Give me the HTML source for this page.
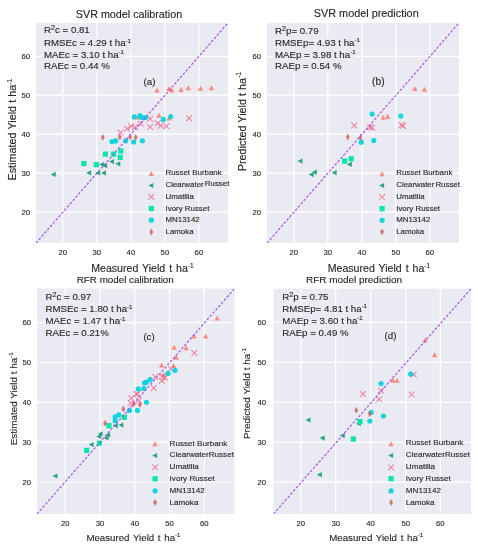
<!DOCTYPE html>
<html><head><meta charset="utf-8"><style>
html,body{margin:0;padding:0;background:#fff;}
svg{display:block;font-family:"Liberation Sans", sans-serif;will-change:transform;}
text{stroke:#262626;stroke-width:0.12px;}
</style></head><body>
<svg width="478" height="550" viewBox="0 0 478 550">
<rect width="478" height="550" fill="#fff"/>
<rect x="36" y="23" width="192.0" height="220.0" fill="#EAEAF2"/>
<line x1="62.7" y1="23" x2="62.7" y2="243" stroke="#fff" stroke-width="1.2"/>
<line x1="96.8" y1="23" x2="96.8" y2="243" stroke="#fff" stroke-width="1.2"/>
<line x1="130.9" y1="23" x2="130.9" y2="243" stroke="#fff" stroke-width="1.2"/>
<line x1="164.9" y1="23" x2="164.9" y2="243" stroke="#fff" stroke-width="1.2"/>
<line x1="198.9" y1="23" x2="198.9" y2="243" stroke="#fff" stroke-width="1.2"/>
<line x1="36" y1="212.1" x2="228" y2="212.1" stroke="#fff" stroke-width="1.2"/>
<line x1="36" y1="173.1" x2="228" y2="173.1" stroke="#fff" stroke-width="1.2"/>
<line x1="36" y1="134.1" x2="228" y2="134.1" stroke="#fff" stroke-width="1.2"/>
<line x1="36" y1="95.2" x2="228" y2="95.2" stroke="#fff" stroke-width="1.2"/>
<line x1="36" y1="56.3" x2="228" y2="56.3" stroke="#fff" stroke-width="1.2"/>
<text x="62.7" y="255.1" font-size="7.7" text-anchor="middle" fill="#262626">20</text>
<text x="96.8" y="255.1" font-size="7.7" text-anchor="middle" fill="#262626">30</text>
<text x="130.9" y="255.1" font-size="7.7" text-anchor="middle" fill="#262626">40</text>
<text x="164.9" y="255.1" font-size="7.7" text-anchor="middle" fill="#262626">50</text>
<text x="198.9" y="255.1" font-size="7.7" text-anchor="middle" fill="#262626">60</text>
<text x="30" y="214.9" font-size="7.7" text-anchor="end" fill="#262626">20</text>
<text x="30" y="175.9" font-size="7.7" text-anchor="end" fill="#262626">30</text>
<text x="30" y="136.9" font-size="7.7" text-anchor="end" fill="#262626">40</text>
<text x="30" y="98.0" font-size="7.7" text-anchor="end" fill="#262626">50</text>
<text x="30" y="59.099999999999994" font-size="7.7" text-anchor="end" fill="#262626">60</text>
<text x="75.8" y="17.5" font-size="10.75" fill="#262626">SVR model calibration</text>
<text x="91.2" y="272.3" font-size="10.6" fill="#262626" word-spacing="1">Measured Yield t ha<tspan font-size="6.6" dy="-4.0">-1</tspan></text>
<text transform="translate(16,180.6) rotate(-90)" x="0" y="0" font-size="10.85" fill="#262626">Estimated Yield t ha<tspan font-size="6.7" dy="-4.1">-1</tspan></text>
<rect x="42.5" y="24.2" width="48.0" height="13.8" fill="#EAEAF2"/>
<rect x="42.5" y="37.6" width="89.2" height="11.8" fill="#EAEAF2"/>
<rect x="42.5" y="49.0" width="82.2" height="11.8" fill="#EAEAF2"/>
<rect x="42.5" y="60.4" width="68.2" height="11.6" fill="#EAEAF2"/>
<text x="44" y="32.8" font-size="9.7" fill="#262626">R<tspan font-size="7.2" dy="-2.6">2</tspan><tspan dy="2.6">c = 0.81</tspan></text>
<text x="44" y="46.2" font-size="9.7" fill="#262626">RMSEc = 4.29 t ha<tspan font-size="6.0" dy="-3.7">-1</tspan></text>
<text x="44" y="57.6" font-size="9.7" fill="#262626">MAEc = 3.10 t ha<tspan font-size="6.0" dy="-3.7">-1</tspan></text>
<text x="44" y="69" font-size="9.7" fill="#262626">RAEc = 0.44 %</text>
<text x="143.5" y="84.6" font-size="9.9" fill="#262626">(a)</text>
<path d="M151.30 171.10L154.00 176.10L148.60 176.10Z" fill="#FA8072" fill-opacity="0.88"/>
<text x="165.5" y="175.3" font-size="7.9" fill="#262626">Russet Burbank</text>
<path d="M148.30 185.50L153.30 182.90L153.30 188.10Z" fill="#2AA683"/>
<text x="165.5" y="186.9" font-size="7.9" fill="#262626">Clearwater</text>
<text x="204.8" y="185.9" font-size="7.9" fill="#262626">Russet</text>
<path d="M148.40 193.90L154.20 199.70M148.40 199.70L154.20 193.90" stroke="#F25C80" stroke-width="1.05" stroke-opacity="0.75" fill="none"/>
<text x="165.5" y="198.6" font-size="7.9" fill="#262626">Umatilla</text>
<rect x="148.70" y="205.90" width="5.20" height="5.20" fill="#05E8A8"/>
<text x="165.5" y="210.5" font-size="7.9" fill="#262626">Ivory Russet</text>
<circle cx="151.30" cy="220.20" r="2.60" fill="#00D2DC" fill-opacity="0.92"/>
<text x="165.5" y="222.1" font-size="7.9" fill="#262626">MN13142</text>
<path d="M151.30 228.60L153.20 232.00L151.30 235.40L149.40 232.00Z" fill="#CD5C5C" fill-opacity="0.82"/>
<text x="165.5" y="233.6" font-size="7.9" fill="#262626">Lamoka</text>
<clipPath id="cA"><rect x="36" y="23" width="192.0" height="220.0"/></clipPath>
<g clip-path="url(#cA)">
<path d="M157.00 87.50L159.70 92.50L154.30 92.50Z" fill="#FA8072" fill-opacity="0.88"/>
<path d="M169.00 86.10L171.70 91.10L166.30 91.10Z" fill="#FA8072" fill-opacity="0.88"/>
<path d="M171.70 87.50L174.40 92.50L169.00 92.50Z" fill="#FA8072" fill-opacity="0.88"/>
<path d="M181.00 87.00L183.70 92.00L178.30 92.00Z" fill="#FA8072" fill-opacity="0.88"/>
<path d="M188.40 85.30L191.10 90.30L185.70 90.30Z" fill="#FA8072" fill-opacity="0.88"/>
<path d="M200.50 85.80L203.20 90.80L197.80 90.80Z" fill="#FA8072" fill-opacity="0.88"/>
<path d="M211.50 85.30L214.20 90.30L208.80 90.30Z" fill="#FA8072" fill-opacity="0.88"/>
<path d="M158.90 112.70L161.60 117.70L156.20 117.70Z" fill="#FA8072" fill-opacity="0.88"/>
<path d="M138.20 114.60L140.90 119.60L135.50 119.60Z" fill="#FA8072" fill-opacity="0.88"/>
<path d="M169.00 115.60L171.70 120.60L166.30 120.60Z" fill="#FA8072" fill-opacity="0.88"/>
<path d="M50.70 174.40L55.70 171.80L55.70 177.00Z" fill="#2AA683"/>
<path d="M86.10 172.90L91.10 170.30L91.10 175.50Z" fill="#2AA683"/>
<path d="M95.20 172.90L100.20 170.30L100.20 175.50Z" fill="#2AA683"/>
<path d="M100.90 172.90L105.90 170.30L105.90 175.50Z" fill="#2AA683"/>
<path d="M99.00 164.50L104.00 161.90L104.00 167.10Z" fill="#2AA683"/>
<path d="M102.10 165.70L107.10 163.10L107.10 168.30Z" fill="#2AA683"/>
<path d="M109.00 161.60L114.00 159.00L114.00 164.20Z" fill="#2AA683"/>
<path d="M115.30 163.80L120.30 161.20L120.30 166.40Z" fill="#2AA683"/>
<rect x="81.20" y="160.90" width="5.20" height="5.20" fill="#05E8A8"/>
<rect x="93.70" y="162.10" width="5.20" height="5.20" fill="#05E8A8"/>
<rect x="102.80" y="151.50" width="5.20" height="5.20" fill="#05E8A8"/>
<rect x="111.00" y="151.50" width="5.20" height="5.20" fill="#05E8A8"/>
<rect x="118.20" y="148.40" width="5.20" height="5.20" fill="#05E8A8"/>
<rect x="117.60" y="154.70" width="5.20" height="5.20" fill="#05E8A8"/>
<path d="M117.70 129.70L123.50 135.50M117.70 135.50L123.50 129.70" stroke="#F25C80" stroke-width="1.05" stroke-opacity="0.75" fill="none"/>
<path d="M124.40 125.90L130.20 131.70M124.40 131.70L130.20 125.90" stroke="#F25C80" stroke-width="1.05" stroke-opacity="0.75" fill="none"/>
<path d="M128.30 123.40L134.10 129.20M128.30 129.20L134.10 123.40" stroke="#F25C80" stroke-width="1.05" stroke-opacity="0.75" fill="none"/>
<path d="M132.10 124.30L137.90 130.10M132.10 130.10L137.90 124.30" stroke="#F25C80" stroke-width="1.05" stroke-opacity="0.75" fill="none"/>
<path d="M137.80 120.90L143.60 126.70M137.80 126.70L143.60 120.90" stroke="#F25C80" stroke-width="1.05" stroke-opacity="0.75" fill="none"/>
<path d="M147.20 115.90L153.00 121.70M147.20 121.70L153.00 115.90" stroke="#F25C80" stroke-width="1.05" stroke-opacity="0.75" fill="none"/>
<path d="M147.20 124.10L153.00 129.90M147.20 129.90L153.00 124.10" stroke="#F25C80" stroke-width="1.05" stroke-opacity="0.75" fill="none"/>
<path d="M154.80 120.30L160.60 126.10M154.80 126.10L160.60 120.30" stroke="#F25C80" stroke-width="1.05" stroke-opacity="0.75" fill="none"/>
<path d="M157.90 122.80L163.70 128.60M157.90 128.60L163.70 122.80" stroke="#F25C80" stroke-width="1.05" stroke-opacity="0.75" fill="none"/>
<path d="M163.50 123.40L169.30 129.20M163.50 129.20L169.30 123.40" stroke="#F25C80" stroke-width="1.05" stroke-opacity="0.75" fill="none"/>
<path d="M186.20 115.30L192.00 121.10M186.20 121.10L192.00 115.30" stroke="#F25C80" stroke-width="1.05" stroke-opacity="0.75" fill="none"/>
<circle cx="134.40" cy="116.90" r="2.60" fill="#00D2DC" fill-opacity="0.92"/>
<circle cx="140.10" cy="115.70" r="2.60" fill="#00D2DC" fill-opacity="0.92"/>
<circle cx="142.00" cy="117.60" r="2.60" fill="#00D2DC" fill-opacity="0.92"/>
<circle cx="145.70" cy="117.60" r="2.60" fill="#00D2DC" fill-opacity="0.92"/>
<circle cx="163.30" cy="119.40" r="2.60" fill="#00D2DC" fill-opacity="0.92"/>
<circle cx="170.70" cy="116.70" r="2.60" fill="#00D2DC" fill-opacity="0.92"/>
<circle cx="112.00" cy="141.60" r="2.60" fill="#00D2DC" fill-opacity="0.92"/>
<circle cx="115.60" cy="140.90" r="2.60" fill="#00D2DC" fill-opacity="0.92"/>
<circle cx="125.70" cy="140.80" r="2.60" fill="#00D2DC" fill-opacity="0.92"/>
<circle cx="133.60" cy="142.00" r="2.60" fill="#00D2DC" fill-opacity="0.92"/>
<circle cx="142.40" cy="140.80" r="2.60" fill="#00D2DC" fill-opacity="0.92"/>
<path d="M102.80 134.00L104.70 137.40L102.80 140.80L100.90 137.40Z" fill="#CD5C5C" fill-opacity="0.82"/>
<path d="M119.80 133.60L121.70 137.00L119.80 140.40L117.90 137.00Z" fill="#CD5C5C" fill-opacity="0.82"/>
<path d="M130.10 133.60L132.00 137.00L130.10 140.40L128.20 137.00Z" fill="#CD5C5C" fill-opacity="0.82"/>
<path d="M135.70 134.00L137.60 137.40L135.70 140.80L133.80 137.40Z" fill="#CD5C5C" fill-opacity="0.82"/>
<line x1="36" y1="243" x2="228" y2="23" stroke="#A64CF0" stroke-width="1.15" stroke-dasharray="2.6 1.7"/>
</g>
<rect x="267" y="23" width="192.0" height="220.0" fill="#EAEAF2"/>
<line x1="293.8" y1="23" x2="293.8" y2="243" stroke="#fff" stroke-width="1.2"/>
<line x1="327.8" y1="23" x2="327.8" y2="243" stroke="#fff" stroke-width="1.2"/>
<line x1="361.9" y1="23" x2="361.9" y2="243" stroke="#fff" stroke-width="1.2"/>
<line x1="395.9" y1="23" x2="395.9" y2="243" stroke="#fff" stroke-width="1.2"/>
<line x1="429.8" y1="23" x2="429.8" y2="243" stroke="#fff" stroke-width="1.2"/>
<line x1="267" y1="212.1" x2="459" y2="212.1" stroke="#fff" stroke-width="1.2"/>
<line x1="267" y1="173.1" x2="459" y2="173.1" stroke="#fff" stroke-width="1.2"/>
<line x1="267" y1="134.1" x2="459" y2="134.1" stroke="#fff" stroke-width="1.2"/>
<line x1="267" y1="95.1" x2="459" y2="95.1" stroke="#fff" stroke-width="1.2"/>
<line x1="267" y1="56.3" x2="459" y2="56.3" stroke="#fff" stroke-width="1.2"/>
<text x="293.8" y="255.1" font-size="7.7" text-anchor="middle" fill="#262626">20</text>
<text x="327.8" y="255.1" font-size="7.7" text-anchor="middle" fill="#262626">30</text>
<text x="361.9" y="255.1" font-size="7.7" text-anchor="middle" fill="#262626">40</text>
<text x="395.9" y="255.1" font-size="7.7" text-anchor="middle" fill="#262626">50</text>
<text x="429.8" y="255.1" font-size="7.7" text-anchor="middle" fill="#262626">60</text>
<text x="261" y="214.9" font-size="7.7" text-anchor="end" fill="#262626">20</text>
<text x="261" y="175.9" font-size="7.7" text-anchor="end" fill="#262626">30</text>
<text x="261" y="136.9" font-size="7.7" text-anchor="end" fill="#262626">40</text>
<text x="261" y="97.89999999999999" font-size="7.7" text-anchor="end" fill="#262626">50</text>
<text x="261" y="59.099999999999994" font-size="7.7" text-anchor="end" fill="#262626">60</text>
<text x="313.8" y="17.3" font-size="10.85" fill="#262626">SVR model prediction</text>
<text x="327.7" y="271.6" font-size="10.6" fill="#262626" word-spacing="1">Measured Yield t ha<tspan font-size="6.6" dy="-4.0">-1</tspan></text>
<text transform="translate(245.5,171.3) rotate(-90)" x="0" y="0" font-size="10.85" fill="#262626">Predicted Yield t ha<tspan font-size="6.7" dy="-4.1">-1</tspan></text>
<rect x="273.5" y="24.9" width="45.8" height="12.6" fill="#EAEAF2"/>
<rect x="273.5" y="37.1" width="87.1" height="12.2" fill="#EAEAF2"/>
<rect x="273.5" y="48.9" width="82.8" height="12.2" fill="#EAEAF2"/>
<rect x="273.5" y="60.7" width="68.8" height="11.6" fill="#EAEAF2"/>
<text x="275" y="33.5" font-size="9.7" fill="#262626">R<tspan font-size="7.2" dy="-2.6">2</tspan><tspan dy="2.6">p= 0.79</tspan></text>
<text x="275" y="45.7" font-size="9.7" fill="#262626">RMSEp= 4.93 t ha<tspan font-size="6.0" dy="-3.7">-1</tspan></text>
<text x="275" y="57.5" font-size="9.7" fill="#262626">MAEp = 3.98 t ha<tspan font-size="6.0" dy="-3.7">-1</tspan></text>
<text x="275" y="69.3" font-size="9.7" fill="#262626">RAEp = 0.54 %</text>
<text x="372" y="84.9" font-size="10.3" fill="#262626">(b)</text>
<path d="M382.10 171.30L384.80 176.30L379.40 176.30Z" fill="#FA8072" fill-opacity="0.88"/>
<text x="396.2" y="175.2" font-size="7.9" fill="#262626">Russet Burbank</text>
<path d="M379.10 185.50L384.10 182.90L384.10 188.10Z" fill="#2AA683"/>
<text x="396.2" y="187.0" font-size="7.9" fill="#262626">Clearwater</text>
<text x="435.4" y="187.0" font-size="7.9" fill="#262626">Russet</text>
<path d="M379.20 194.20L385.00 200.00M379.20 200.00L385.00 194.20" stroke="#F25C80" stroke-width="1.05" stroke-opacity="0.75" fill="none"/>
<text x="396.2" y="198.8" font-size="7.9" fill="#262626">Umatilla</text>
<rect x="379.50" y="206.10" width="5.20" height="5.20" fill="#05E8A8"/>
<text x="396.2" y="210.6" font-size="7.9" fill="#262626">Ivory Russet</text>
<circle cx="382.10" cy="220.30" r="2.60" fill="#00D2DC" fill-opacity="0.92"/>
<text x="396.2" y="222.3" font-size="7.9" fill="#262626">MN13142</text>
<path d="M382.10 228.40L384.00 231.80L382.10 235.20L380.20 231.80Z" fill="#CD5C5C" fill-opacity="0.82"/>
<text x="396.2" y="233.9" font-size="7.9" fill="#262626">Lamoka</text>
<clipPath id="cB"><rect x="267" y="23" width="192.0" height="220.0"/></clipPath>
<g clip-path="url(#cB)">
<path d="M414.80 85.90L417.50 90.90L412.10 90.90Z" fill="#FA8072" fill-opacity="0.88"/>
<path d="M424.40 86.70L427.10 91.70L421.70 91.70Z" fill="#FA8072" fill-opacity="0.88"/>
<path d="M383.20 114.70L385.90 119.70L380.50 119.70Z" fill="#FA8072" fill-opacity="0.88"/>
<path d="M387.70 113.80L390.40 118.80L385.00 118.80Z" fill="#FA8072" fill-opacity="0.88"/>
<path d="M297.50 161.10L302.50 158.50L302.50 163.70Z" fill="#2AA683"/>
<path d="M308.60 174.60L313.60 172.00L313.60 177.20Z" fill="#2AA683"/>
<path d="M311.90 172.10L316.90 169.50L316.90 174.70Z" fill="#2AA683"/>
<path d="M331.60 172.70L336.60 170.10L336.60 175.30Z" fill="#2AA683"/>
<path d="M346.80 164.30L351.80 161.70L351.80 166.90Z" fill="#2AA683"/>
<rect x="342.00" y="158.50" width="5.20" height="5.20" fill="#05E8A8"/>
<rect x="348.60" y="156.20" width="5.20" height="5.20" fill="#05E8A8"/>
<path d="M351.30 122.60L357.10 128.40M351.30 128.40L357.10 122.60" stroke="#F25C80" stroke-width="1.05" stroke-opacity="0.75" fill="none"/>
<path d="M366.90 124.30L372.70 130.10M366.90 130.10L372.70 124.30" stroke="#F25C80" stroke-width="1.05" stroke-opacity="0.75" fill="none"/>
<path d="M369.20 124.80L375.00 130.60M369.20 130.60L375.00 124.80" stroke="#F25C80" stroke-width="1.05" stroke-opacity="0.75" fill="none"/>
<path d="M398.70 122.00L404.50 127.80M398.70 127.80L404.50 122.00" stroke="#F25C80" stroke-width="1.05" stroke-opacity="0.75" fill="none"/>
<path d="M399.90 123.10L405.70 128.90M399.90 128.90L405.70 123.10" stroke="#F25C80" stroke-width="1.05" stroke-opacity="0.75" fill="none"/>
<circle cx="372.10" cy="114.00" r="2.60" fill="#00D2DC" fill-opacity="0.92"/>
<circle cx="400.80" cy="116.10" r="2.60" fill="#00D2DC" fill-opacity="0.92"/>
<circle cx="361.20" cy="142.20" r="2.60" fill="#00D2DC" fill-opacity="0.92"/>
<circle cx="373.80" cy="140.60" r="2.60" fill="#00D2DC" fill-opacity="0.92"/>
<path d="M347.80 133.60L349.70 137.00L347.80 140.40L345.90 137.00Z" fill="#CD5C5C" fill-opacity="0.82"/>
<path d="M360.50 134.10L362.40 137.50L360.50 140.90L358.60 137.50Z" fill="#CD5C5C" fill-opacity="0.82"/>
<line x1="267" y1="243" x2="459" y2="23" stroke="#A64CF0" stroke-width="1.15" stroke-dasharray="2.6 1.7"/>
</g>
<rect x="37" y="288.5" width="197.6" height="225.5" fill="#EAEAF2"/>
<line x1="65.2" y1="288.5" x2="65.2" y2="514" stroke="#fff" stroke-width="1.2"/>
<line x1="100" y1="288.5" x2="100" y2="514" stroke="#fff" stroke-width="1.2"/>
<line x1="134.7" y1="288.5" x2="134.7" y2="514" stroke="#fff" stroke-width="1.2"/>
<line x1="169.5" y1="288.5" x2="169.5" y2="514" stroke="#fff" stroke-width="1.2"/>
<line x1="204.3" y1="288.5" x2="204.3" y2="514" stroke="#fff" stroke-width="1.2"/>
<line x1="37" y1="482" x2="234.6" y2="482" stroke="#fff" stroke-width="1.2"/>
<line x1="37" y1="442.1" x2="234.6" y2="442.1" stroke="#fff" stroke-width="1.2"/>
<line x1="37" y1="402.4" x2="234.6" y2="402.4" stroke="#fff" stroke-width="1.2"/>
<line x1="37" y1="362.5" x2="234.6" y2="362.5" stroke="#fff" stroke-width="1.2"/>
<line x1="37" y1="322.6" x2="234.6" y2="322.6" stroke="#fff" stroke-width="1.2"/>
<text x="65.2" y="526.4" font-size="7.7" text-anchor="middle" fill="#262626">20</text>
<text x="100" y="526.4" font-size="7.7" text-anchor="middle" fill="#262626">30</text>
<text x="134.7" y="526.4" font-size="7.7" text-anchor="middle" fill="#262626">40</text>
<text x="169.5" y="526.4" font-size="7.7" text-anchor="middle" fill="#262626">50</text>
<text x="204.3" y="526.4" font-size="7.7" text-anchor="middle" fill="#262626">60</text>
<text x="31" y="484.8" font-size="7.7" text-anchor="end" fill="#262626">20</text>
<text x="31" y="444.90000000000003" font-size="7.7" text-anchor="end" fill="#262626">30</text>
<text x="31" y="405.2" font-size="7.7" text-anchor="end" fill="#262626">40</text>
<text x="31" y="365.3" font-size="7.7" text-anchor="end" fill="#262626">50</text>
<text x="31" y="325.40000000000003" font-size="7.7" text-anchor="end" fill="#262626">60</text>
<text x="76.8" y="283.2" font-size="9.8" fill="#262626">RFR model calibration</text>
<text x="86.4" y="540.8" font-size="9.7" fill="#262626" word-spacing="1">Measured Yield t ha<tspan font-size="6.0" dy="-3.7">-1</tspan></text>
<text transform="translate(17.2,445.3) rotate(-90)" x="0" y="0" font-size="9.92" fill="#262626">Estimated Yield t ha<tspan font-size="6.2" dy="-3.8">-1</tspan></text>
<text x="45.5" y="299.8" font-size="9.7" fill="#262626">R<tspan font-size="7.2" dy="-2.6">2</tspan><tspan dy="2.6">c = 0.97</tspan></text>
<text x="45.5" y="312.2" font-size="9.7" fill="#262626">RMSEc = 1.80 t ha<tspan font-size="6.0" dy="-3.7">-1</tspan></text>
<text x="45.5" y="324.4" font-size="9.7" fill="#262626">MAEc = 1.47 t ha<tspan font-size="6.0" dy="-3.7">-1</tspan></text>
<text x="45.5" y="335.9" font-size="9.7" fill="#262626">RAEc = 0.21%</text>
<text x="143.4" y="339.5" font-size="9.7" fill="#262626">(c)</text>
<path d="M155.10 441.30L157.80 446.30L152.40 446.30Z" fill="#FA8072" fill-opacity="0.88"/>
<text x="169.6" y="445.6" font-size="8.1" fill="#262626">Russet Burbank</text>
<path d="M152.10 455.60L157.10 453.00L157.10 458.20Z" fill="#2AA683"/>
<text x="169.6" y="457.4" font-size="8.1" fill="#262626">ClearwaterRusset</text>
<path d="M152.20 464.30L158.00 470.10M152.20 470.10L158.00 464.30" stroke="#F25C80" stroke-width="1.05" stroke-opacity="0.75" fill="none"/>
<text x="169.6" y="469.2" font-size="8.1" fill="#262626">Umatilla</text>
<rect x="152.50" y="476.20" width="5.20" height="5.20" fill="#05E8A8"/>
<text x="169.6" y="481.0" font-size="8.1" fill="#262626">Ivory Russet</text>
<circle cx="155.10" cy="490.80" r="2.60" fill="#00D2DC" fill-opacity="0.92"/>
<text x="169.6" y="492.9" font-size="8.1" fill="#262626">MN13142</text>
<path d="M155.10 499.10L157.00 502.50L155.10 505.90L153.20 502.50Z" fill="#CD5C5C" fill-opacity="0.82"/>
<text x="169.6" y="504.7" font-size="8.1" fill="#262626">Lamoka</text>
<clipPath id="cC"><rect x="37" y="288.5" width="197.6" height="225.5"/></clipPath>
<g clip-path="url(#cC)">
<path d="M217.10 315.60L219.80 320.60L214.40 320.60Z" fill="#FA8072" fill-opacity="0.88"/>
<path d="M194.00 333.40L196.70 338.40L191.30 338.40Z" fill="#FA8072" fill-opacity="0.88"/>
<path d="M205.70 333.40L208.40 338.40L203.00 338.40Z" fill="#FA8072" fill-opacity="0.88"/>
<path d="M174.10 344.70L176.80 349.70L171.40 349.70Z" fill="#FA8072" fill-opacity="0.88"/>
<path d="M186.10 345.20L188.80 350.20L183.40 350.20Z" fill="#FA8072" fill-opacity="0.88"/>
<path d="M176.10 354.80L178.80 359.80L173.40 359.80Z" fill="#FA8072" fill-opacity="0.88"/>
<path d="M161.60 362.60L164.30 367.60L158.90 367.60Z" fill="#FA8072" fill-opacity="0.88"/>
<path d="M173.60 363.00L176.30 368.00L170.90 368.00Z" fill="#FA8072" fill-opacity="0.88"/>
<path d="M163.50 372.00L166.20 377.00L160.80 377.00Z" fill="#FA8072" fill-opacity="0.88"/>
<path d="M52.50 476.00L57.50 473.40L57.50 478.60Z" fill="#2AA683"/>
<path d="M88.70 444.60L93.70 442.00L93.70 447.20Z" fill="#2AA683"/>
<path d="M96.20 436.50L101.20 433.90L101.20 439.10Z" fill="#2AA683"/>
<path d="M97.70 433.90L102.70 431.30L102.70 436.50Z" fill="#2AA683"/>
<path d="M103.50 437.90L108.50 435.30L108.50 440.50Z" fill="#2AA683"/>
<path d="M105.20 434.90L110.20 432.30L110.20 437.50Z" fill="#2AA683"/>
<path d="M112.80 425.70L117.80 423.10L117.80 428.30Z" fill="#2AA683"/>
<path d="M118.40 425.10L123.40 422.50L123.40 427.70Z" fill="#2AA683"/>
<rect x="121.70" y="414.70" width="5.20" height="5.20" fill="#05E8A8"/>
<rect x="106.30" y="423.10" width="5.20" height="5.20" fill="#05E8A8"/>
<rect x="96.80" y="440.60" width="5.20" height="5.20" fill="#05E8A8"/>
<rect x="84.10" y="447.80" width="5.20" height="5.20" fill="#05E8A8"/>
<path d="M191.50 350.10L197.30 355.90M191.50 355.90L197.30 350.10" stroke="#F25C80" stroke-width="1.05" stroke-opacity="0.75" fill="none"/>
<path d="M168.00 366.10L173.80 371.90M168.00 371.90L173.80 366.10" stroke="#F25C80" stroke-width="1.05" stroke-opacity="0.75" fill="none"/>
<path d="M152.20 374.00L158.00 379.80M152.20 379.80L158.00 374.00" stroke="#F25C80" stroke-width="1.05" stroke-opacity="0.75" fill="none"/>
<path d="M159.70 374.20L165.50 380.00M159.70 380.00L165.50 374.20" stroke="#F25C80" stroke-width="1.05" stroke-opacity="0.75" fill="none"/>
<path d="M162.10 374.90L167.90 380.70M162.10 380.70L167.90 374.90" stroke="#F25C80" stroke-width="1.05" stroke-opacity="0.75" fill="none"/>
<path d="M158.90 377.90L164.70 383.70M158.90 383.70L164.70 377.90" stroke="#F25C80" stroke-width="1.05" stroke-opacity="0.75" fill="none"/>
<path d="M150.90 385.10L156.70 390.90M150.90 390.90L156.70 385.10" stroke="#F25C80" stroke-width="1.05" stroke-opacity="0.75" fill="none"/>
<path d="M134.60 390.90L140.40 396.70M134.60 396.70L140.40 390.90" stroke="#F25C80" stroke-width="1.05" stroke-opacity="0.75" fill="none"/>
<path d="M128.40 395.30L134.20 401.10M128.40 401.10L134.20 395.30" stroke="#F25C80" stroke-width="1.05" stroke-opacity="0.75" fill="none"/>
<path d="M133.50 391.50L139.30 397.30M133.50 397.30L139.30 391.50" stroke="#F25C80" stroke-width="1.05" stroke-opacity="0.75" fill="none"/>
<path d="M136.00 397.80L141.80 403.60M136.00 403.60L141.80 397.80" stroke="#F25C80" stroke-width="1.05" stroke-opacity="0.75" fill="none"/>
<path d="M127.80 400.30L133.60 406.10M127.80 406.10L133.60 400.30" stroke="#F25C80" stroke-width="1.05" stroke-opacity="0.75" fill="none"/>
<circle cx="175.00" cy="370.30" r="2.60" fill="#00D2DC" fill-opacity="0.92"/>
<circle cx="168.00" cy="373.40" r="2.60" fill="#00D2DC" fill-opacity="0.92"/>
<circle cx="150.10" cy="379.70" r="2.60" fill="#00D2DC" fill-opacity="0.92"/>
<circle cx="146.30" cy="382.20" r="2.60" fill="#00D2DC" fill-opacity="0.92"/>
<circle cx="144.50" cy="383.00" r="2.60" fill="#00D2DC" fill-opacity="0.92"/>
<circle cx="138.30" cy="388.90" r="2.60" fill="#00D2DC" fill-opacity="0.92"/>
<circle cx="143.80" cy="388.50" r="2.60" fill="#00D2DC" fill-opacity="0.92"/>
<circle cx="146.40" cy="402.30" r="2.60" fill="#00D2DC" fill-opacity="0.92"/>
<circle cx="137.40" cy="410.40" r="2.60" fill="#00D2DC" fill-opacity="0.92"/>
<circle cx="129.50" cy="410.40" r="2.60" fill="#00D2DC" fill-opacity="0.92"/>
<circle cx="118.80" cy="414.90" r="2.60" fill="#00D2DC" fill-opacity="0.92"/>
<circle cx="115.20" cy="416.80" r="2.60" fill="#00D2DC" fill-opacity="0.92"/>
<circle cx="115.10" cy="420.70" r="2.60" fill="#00D2DC" fill-opacity="0.92"/>
<path d="M123.30 405.60L125.20 409.00L123.30 412.40L121.40 409.00Z" fill="#CD5C5C" fill-opacity="0.82"/>
<path d="M133.90 400.40L135.80 403.80L133.90 407.20L132.00 403.80Z" fill="#CD5C5C" fill-opacity="0.82"/>
<path d="M139.90 401.10L141.80 404.50L139.90 407.90L138.00 404.50Z" fill="#CD5C5C" fill-opacity="0.82"/>
<path d="M105.10 419.80L107.00 423.20L105.10 426.60L103.20 423.20Z" fill="#CD5C5C" fill-opacity="0.82"/>
<line x1="37" y1="514" x2="234.6" y2="288.5" stroke="#A64CF0" stroke-width="1.15" stroke-dasharray="2.6 1.7"/>
</g>
<rect x="273.5" y="288.7" width="197.5" height="225.3" fill="#EAEAF2"/>
<line x1="300.8" y1="288.7" x2="300.8" y2="514" stroke="#fff" stroke-width="1.2"/>
<line x1="335.7" y1="288.7" x2="335.7" y2="514" stroke="#fff" stroke-width="1.2"/>
<line x1="370.6" y1="288.7" x2="370.6" y2="514" stroke="#fff" stroke-width="1.2"/>
<line x1="405.8" y1="288.7" x2="405.8" y2="514" stroke="#fff" stroke-width="1.2"/>
<line x1="440.3" y1="288.7" x2="440.3" y2="514" stroke="#fff" stroke-width="1.2"/>
<line x1="273.5" y1="482.2" x2="471" y2="482.2" stroke="#fff" stroke-width="1.2"/>
<line x1="273.5" y1="442.3" x2="471" y2="442.3" stroke="#fff" stroke-width="1.2"/>
<line x1="273.5" y1="402.4" x2="471" y2="402.4" stroke="#fff" stroke-width="1.2"/>
<line x1="273.5" y1="362.4" x2="471" y2="362.4" stroke="#fff" stroke-width="1.2"/>
<line x1="273.5" y1="322.4" x2="471" y2="322.4" stroke="#fff" stroke-width="1.2"/>
<text x="300.8" y="526.4" font-size="7.7" text-anchor="middle" fill="#262626">20</text>
<text x="335.7" y="526.4" font-size="7.7" text-anchor="middle" fill="#262626">30</text>
<text x="370.6" y="526.4" font-size="7.7" text-anchor="middle" fill="#262626">40</text>
<text x="405.8" y="526.4" font-size="7.7" text-anchor="middle" fill="#262626">50</text>
<text x="440.3" y="526.4" font-size="7.7" text-anchor="middle" fill="#262626">60</text>
<text x="266" y="485.0" font-size="7.7" text-anchor="end" fill="#262626">20</text>
<text x="266" y="445.1" font-size="7.7" text-anchor="end" fill="#262626">30</text>
<text x="266" y="405.2" font-size="7.7" text-anchor="end" fill="#262626">40</text>
<text x="266" y="365.2" font-size="7.7" text-anchor="end" fill="#262626">50</text>
<text x="266" y="325.2" font-size="7.7" text-anchor="end" fill="#262626">60</text>
<text x="306" y="282.6" font-size="9.95" fill="#262626">RFR model prediction</text>
<text x="329.2" y="540.6" font-size="9.7" fill="#262626" word-spacing="1">Measured Yield t ha<tspan font-size="6.0" dy="-3.7">-1</tspan></text>
<text transform="translate(249.8,439) rotate(-90)" x="0" y="0" font-size="9.92" fill="#262626">Predicted Yield t ha<tspan font-size="6.2" dy="-3.8">-1</tspan></text>
<text x="282.2" y="299.6" font-size="9.7" fill="#262626">R<tspan font-size="7.2" dy="-2.6">2</tspan><tspan dy="2.6">p = 0.75</tspan></text>
<text x="282.2" y="312" font-size="9.7" fill="#262626">RMSEp= 4.81 t ha<tspan font-size="6.0" dy="-3.7">-1</tspan></text>
<text x="282.2" y="324.1" font-size="9.7" fill="#262626">MAEp = 3.60 t ha<tspan font-size="6.0" dy="-3.7">-1</tspan></text>
<text x="282.2" y="335.7" font-size="9.7" fill="#262626">RAEp = 0.49 %</text>
<text x="384.6" y="338.5" font-size="9.7" fill="#262626">(d)</text>
<path d="M391.10 441.30L393.80 446.30L388.40 446.30Z" fill="#FA8072" fill-opacity="0.88"/>
<text x="405.8" y="445.2" font-size="8.1" fill="#262626">Russet Burbank</text>
<path d="M388.10 455.50L393.10 452.90L393.10 458.10Z" fill="#2AA683"/>
<text x="405.8" y="457.0" font-size="8.1" fill="#262626">ClearwaterRusset</text>
<path d="M388.20 464.50L394.00 470.30M388.20 470.30L394.00 464.50" stroke="#F25C80" stroke-width="1.05" stroke-opacity="0.75" fill="none"/>
<text x="405.8" y="468.8" font-size="8.1" fill="#262626">Umatilla</text>
<rect x="388.50" y="476.10" width="5.20" height="5.20" fill="#05E8A8"/>
<text x="405.8" y="480.7" font-size="8.1" fill="#262626">Ivory Russet</text>
<circle cx="391.10" cy="490.90" r="2.60" fill="#00D2DC" fill-opacity="0.92"/>
<text x="405.8" y="492.6" font-size="8.1" fill="#262626">MN13142</text>
<path d="M391.10 499.10L393.00 502.50L391.10 505.90L389.20 502.50Z" fill="#CD5C5C" fill-opacity="0.82"/>
<text x="405.8" y="504.5" font-size="8.1" fill="#262626">Lamoka</text>
<clipPath id="cD"><rect x="273.5" y="288.7" width="197.5" height="225.3"/></clipPath>
<g clip-path="url(#cD)">
<path d="M425.20 337.30L427.90 342.30L422.50 342.30Z" fill="#FA8072" fill-opacity="0.88"/>
<path d="M434.60 352.30L437.30 357.30L431.90 357.30Z" fill="#FA8072" fill-opacity="0.88"/>
<path d="M392.90 377.70L395.60 382.70L390.20 382.70Z" fill="#FA8072" fill-opacity="0.88"/>
<path d="M397.10 377.70L399.80 382.70L394.40 382.70Z" fill="#FA8072" fill-opacity="0.88"/>
<path d="M305.50 420.00L310.50 417.40L310.50 422.60Z" fill="#2AA683"/>
<path d="M319.70 438.10L324.70 435.50L324.70 440.70Z" fill="#2AA683"/>
<path d="M339.80 435.60L344.80 433.00L344.80 438.20Z" fill="#2AA683"/>
<path d="M355.80 423.70L360.80 421.10L360.80 426.30Z" fill="#2AA683"/>
<path d="M316.80 474.70L321.80 472.10L321.80 477.30Z" fill="#2AA683"/>
<rect x="357.40" y="419.00" width="5.20" height="5.20" fill="#05E8A8"/>
<rect x="350.80" y="436.40" width="5.20" height="5.20" fill="#05E8A8"/>
<path d="M410.80 371.60L416.60 377.40M410.80 377.40L416.60 371.60" stroke="#F25C80" stroke-width="1.05" stroke-opacity="0.75" fill="none"/>
<path d="M360.00 391.10L365.80 396.90M360.00 396.90L365.80 391.10" stroke="#F25C80" stroke-width="1.05" stroke-opacity="0.75" fill="none"/>
<path d="M378.10 387.90L383.90 393.70M378.10 393.70L383.90 387.90" stroke="#F25C80" stroke-width="1.05" stroke-opacity="0.75" fill="none"/>
<path d="M376.40 396.30L382.20 402.10M376.40 402.10L382.20 396.30" stroke="#F25C80" stroke-width="1.05" stroke-opacity="0.75" fill="none"/>
<path d="M408.60 391.70L414.40 397.50M408.60 397.50L414.40 391.70" stroke="#F25C80" stroke-width="1.05" stroke-opacity="0.75" fill="none"/>
<circle cx="410.60" cy="374.10" r="2.60" fill="#00D2DC" fill-opacity="0.92"/>
<circle cx="381.00" cy="383.60" r="2.60" fill="#00D2DC" fill-opacity="0.92"/>
<circle cx="371.20" cy="412.30" r="2.60" fill="#00D2DC" fill-opacity="0.92"/>
<circle cx="383.40" cy="416.00" r="2.60" fill="#00D2DC" fill-opacity="0.92"/>
<circle cx="369.80" cy="421.10" r="2.60" fill="#00D2DC" fill-opacity="0.92"/>
<path d="M356.20 406.90L358.10 410.30L356.20 413.70L354.30 410.30Z" fill="#CD5C5C" fill-opacity="0.82"/>
<path d="M369.80 410.40L371.70 413.80L369.80 417.20L367.90 413.80Z" fill="#CD5C5C" fill-opacity="0.82"/>
<line x1="273.5" y1="514" x2="471" y2="288.7" stroke="#A64CF0" stroke-width="1.15" stroke-dasharray="2.6 1.7"/>
</g>
</svg>
</body></html>
